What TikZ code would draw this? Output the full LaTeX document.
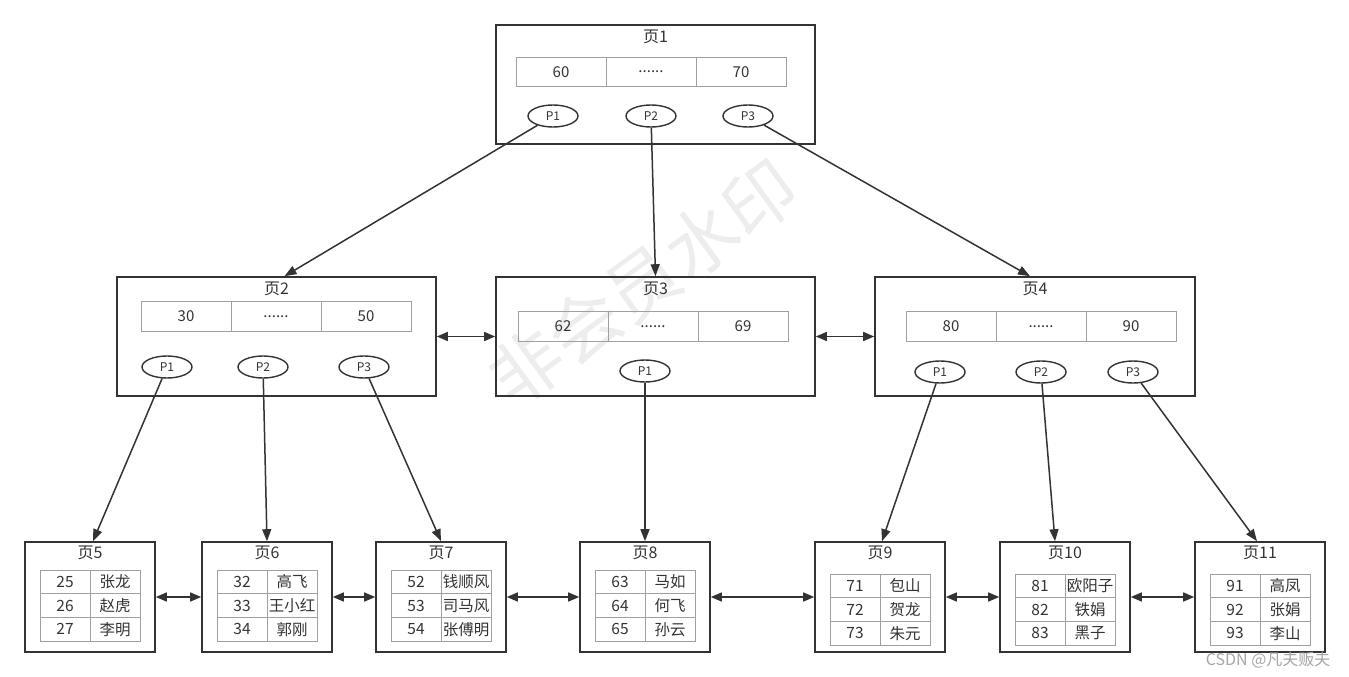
\documentclass[tikz,border=0pt]{standalone}
\usepackage{fontspec}
\setmainfont{Noto Sans CJK SC}
\usetikzlibrary{arrows.meta,shapes.geometric}

\definecolor{ink}{HTML}{333333}
\definecolor{gridline}{HTML}{A0A0A0}
\newcommand{\dotrun}{......}

\tikzset{
  pagebox/.style={draw=ink,line width=1.6pt,inner sep=0pt},
  pagetitle/.style={font=\fontsize{16}{16}\selectfont,text=ink},
  keycell/.style={draw=gridline,line width=1pt,minimum width=90pt,minimum height=29.5pt,inner sep=0pt,font=\fontsize{15}{15}\selectfont,text=ink},
  rowcell/.style={draw=gridline,line width=1pt,minimum width=50pt,minimum height=23.7pt,inner sep=0pt,font=\fontsize{15.5}{15.5}\selectfont,text=ink},
  ptr/.style={ellipse,draw=ink,line width=1.4pt,minimum width=50pt,minimum height=22pt,inner sep=0pt,font=\fontsize{12}{12}\selectfont,text=ink},
  link/.style={draw=ink,line width=1.5pt,-{Triangle[length=12pt,width=9pt]}},
  twoway/.style={draw=ink,line width=1.5pt,{Triangle[length=11pt,width=9pt]}-{Triangle[length=11pt,width=9pt]}}
}

% leaf page: number, centre x, table top, three rows
\newcommand{\leafpage}[6]{%
  \node[pagebox,minimum width=130pt,minimum height=110pt] (pg#1) at (#2,597) {};
  \node[pagetitle] (t#1) at (#2,553) {页#1};
  \foreach \kk/\nm [count=\i] in {#4,#5,#6} {
    \node[rowcell] (k#1\i) at (#2-25,#3+\i*23.7-11.85) {\kk};
    \node[rowcell] (n#1\i) at (#2+25,#3+\i*23.7-11.85) {\nm};
  }
}

\begin{document}
\begin{tikzpicture}[x=1pt,y=-1pt]
\useasboundingbox (0,0) rectangle (1349,677);
\node[rotate=36,text=black!7,font=\fontsize{72}{72}\selectfont] (mark) at (643,283) {非会员水印};

% root
\node[pagebox,minimum width=319pt,minimum height=119pt] (pg1) at (655.5,84.5) {};
\node[pagetitle] (t1) at (655.5,37) {页1};
\foreach \kk [count=\i] in {60,\dotrun,70}
  \node[keycell] (k1\i) at (471+\i*90,72) {\kk};
\node[ptr] (p11) at (553,116) {P1};
\node[ptr] (p12) at (651,116) {P2};
\node[ptr] (p13) at (748,116) {P3};

% second level
\node[pagebox,minimum width=319pt,minimum height=119pt] (pg2) at (276.5,336.5) {};
\node[pagetitle] (t2) at (276.5,289) {页2};
\foreach \kk [count=\i] in {30,\dotrun,50}
  \node[keycell] (k2\i) at (96+\i*90,316.5) {\kk};
\node[ptr] (p21) at (167,367) {P1};
\node[ptr] (p22) at (263,367) {P2};
\node[ptr] (p23) at (364,367) {P3};

\node[pagebox,minimum width=319pt,minimum height=119pt] (pg3) at (655.5,336.5) {};
\node[pagetitle] (t3) at (655.5,289) {页3};
\foreach \kk [count=\i] in {62,\dotrun,69}
  \node[keycell] (k3\i) at (473+\i*90,326.5) {\kk};
\node[ptr] (p31) at (645,371) {P1};

\node[pagebox,minimum width=320pt,minimum height=119pt] (pg4) at (1035,336.5) {};
\node[pagetitle] (t4) at (1035,289) {页4};
\foreach \kk [count=\i] in {80,\dotrun,90}
  \node[keycell] (k4\i) at (861+\i*90,326.5) {\kk};
\node[ptr] (p41) at (940,372) {P1};
\node[ptr] (p42) at (1041,372) {P2};
\node[ptr] (p43) at (1133,372) {P3};

% leaves
\leafpage{5}{90}{570}{25/张龙}{26/赵虎}{27/李明}
\leafpage{6}{267}{570}{32/高飞}{33/王小红}{34/郭刚}
\leafpage{7}{441}{570}{52/钱顺风}{53/司马风}{54/张傅明}
\leafpage{8}{645}{570}{63/马如}{64/何飞}{65/孙云}
\leafpage{9}{880}{574}{71/包山}{72/贺龙}{73/朱元}
\leafpage{10}{1065}{574}{81/欧阳子}{82/铁娟}{83/黑子}
\leafpage{11}{1260}{574}{91/高凤}{92/张娟}{93/李山}

\draw[link] (p11) -- ([xshift=8pt]pg2.north);
\draw[link] (p12) -- (pg3.north);
\draw[link] (p13) -- ([xshift=-5pt]pg4.north);
\draw[link] (p21) -- ([xshift=3pt]pg5.north);
\draw[link] (p22) -- (pg6.north);
\draw[link] (p23) -- (pg7.north);
\draw[link] (p31) -- (pg8.north);
\draw[link] (p41) -- ([xshift=2pt]pg9.north);
\draw[link] (p42) -- ([xshift=-10pt]pg10.north);
\draw[link] (p43) -- ([xshift=-3pt]pg11.north);

\draw[twoway] (pg2) -- (pg3);
\draw[twoway] (pg3) -- (pg4);
\foreach \a/\b in {5/6,6/7,7/8,8/9,9/10,10/11}
  \draw[twoway] (pg\a) -- (pg\b);

\node[anchor=east,text=black!35,font=\fontsize{16}{16}\selectfont] (csdn) at (1334,660) {CSDN @凡夫贩夫};
\end{tikzpicture}
\end{document}
